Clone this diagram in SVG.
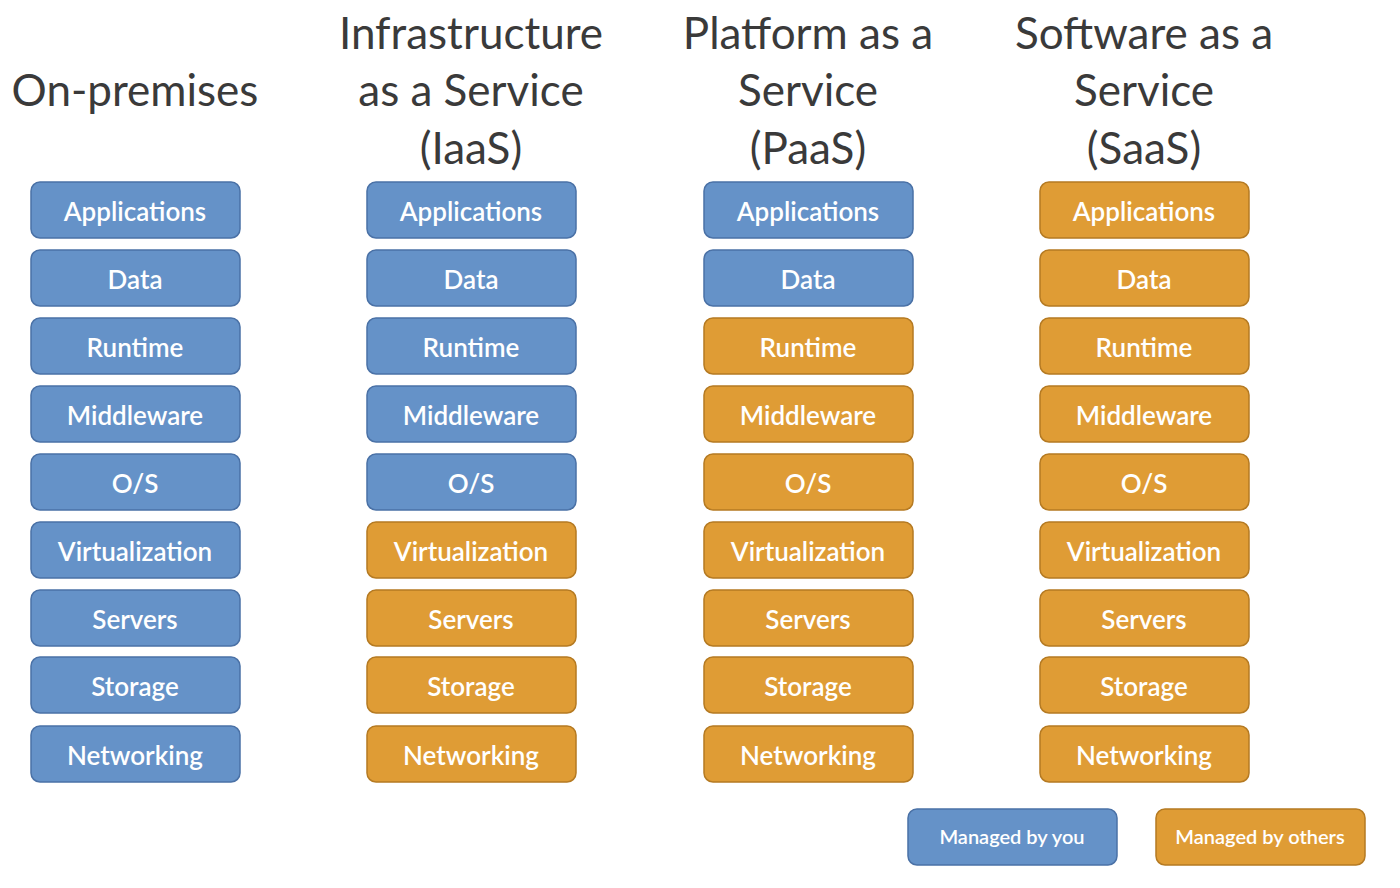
<svg xmlns="http://www.w3.org/2000/svg" width="1400" height="888" viewBox="0 0 1400 888">
<style>
.b{fill:#6592c8;stroke:#4a71a6;stroke-width:1.5}
.o{fill:#df9c35;stroke:#b57a22;stroke-width:1.5}
.t{font-family:Lato,"Open Sans",sans-serif;font-size:26px;fill:#fff;text-anchor:middle;font-weight:600}
.l{font-family:Lato,"Open Sans",sans-serif;font-size:20px;fill:#fff;text-anchor:middle;font-weight:600}
.h{font-family:Lato,"Open Sans",sans-serif;font-size:44px;fill:#3a3a3a;text-anchor:middle}
</style>
<g id="titles">
<text class="h" x="135" y="106">On-premises</text>
<text class="h" x="471" y="49">Infrastructure</text>
<text class="h" x="471" y="106">as a Service</text>
<text class="h" x="471" y="164">(IaaS)</text>
<text class="h" x="808" y="49">Platform as a</text>
<text class="h" x="808" y="106">Service</text>
<text class="h" x="808" y="164">(PaaS)</text>
<text class="h" x="1144" y="49">Software as a</text>
<text class="h" x="1144" y="106">Service</text>
<text class="h" x="1144" y="164">(SaaS)</text>
</g>
<g id="onprem">
<g id="op1"><rect class="b" x="31" y="182" width="209" height="56" rx="9"/><text class="t" x="135" y="221">Applications</text></g>
<g id="op2"><rect class="b" x="31" y="250" width="209" height="56" rx="9"/><text class="t" x="135" y="289">Data</text></g>
<g id="op3"><rect class="b" x="31" y="318" width="209" height="56" rx="9"/><text class="t" x="135" y="357">Runtime</text></g>
<g id="op4"><rect class="b" x="31" y="386" width="209" height="56" rx="9"/><text class="t" x="135" y="425">Middleware</text></g>
<g id="op5"><rect class="b" x="31" y="454" width="209" height="56" rx="9"/><text class="t" x="135" y="493">O/S</text></g>
<g id="op6"><rect class="b" x="31" y="522" width="209" height="56" rx="9"/><text class="t" x="135" y="561">Virtualization</text></g>
<g id="op7"><rect class="b" x="31" y="590" width="209" height="56" rx="9"/><text class="t" x="135" y="629">Servers</text></g>
<g id="op8"><rect class="b" x="31" y="657" width="209" height="56" rx="9"/><text class="t" x="135" y="696">Storage</text></g>
<g id="op9"><rect class="b" x="31" y="726" width="209" height="56" rx="9"/><text class="t" x="135" y="765">Networking</text></g>
</g>
<g id="iaas">
<g id="ia1"><rect class="b" x="367" y="182" width="209" height="56" rx="9"/><text class="t" x="471" y="221">Applications</text></g>
<g id="ia2"><rect class="b" x="367" y="250" width="209" height="56" rx="9"/><text class="t" x="471" y="289">Data</text></g>
<g id="ia3"><rect class="b" x="367" y="318" width="209" height="56" rx="9"/><text class="t" x="471" y="357">Runtime</text></g>
<g id="ia4"><rect class="b" x="367" y="386" width="209" height="56" rx="9"/><text class="t" x="471" y="425">Middleware</text></g>
<g id="ia5"><rect class="b" x="367" y="454" width="209" height="56" rx="9"/><text class="t" x="471" y="493">O/S</text></g>
<g id="ia6"><rect class="o" x="367" y="522" width="209" height="56" rx="9"/><text class="t" x="471" y="561">Virtualization</text></g>
<g id="ia7"><rect class="o" x="367" y="590" width="209" height="56" rx="9"/><text class="t" x="471" y="629">Servers</text></g>
<g id="ia8"><rect class="o" x="367" y="657" width="209" height="56" rx="9"/><text class="t" x="471" y="696">Storage</text></g>
<g id="ia9"><rect class="o" x="367" y="726" width="209" height="56" rx="9"/><text class="t" x="471" y="765">Networking</text></g>
</g>
<g id="paas">
<g id="pa1"><rect class="b" x="704" y="182" width="209" height="56" rx="9"/><text class="t" x="808" y="221">Applications</text></g>
<g id="pa2"><rect class="b" x="704" y="250" width="209" height="56" rx="9"/><text class="t" x="808" y="289">Data</text></g>
<g id="pa3"><rect class="o" x="704" y="318" width="209" height="56" rx="9"/><text class="t" x="808" y="357">Runtime</text></g>
<g id="pa4"><rect class="o" x="704" y="386" width="209" height="56" rx="9"/><text class="t" x="808" y="425">Middleware</text></g>
<g id="pa5"><rect class="o" x="704" y="454" width="209" height="56" rx="9"/><text class="t" x="808" y="493">O/S</text></g>
<g id="pa6"><rect class="o" x="704" y="522" width="209" height="56" rx="9"/><text class="t" x="808" y="561">Virtualization</text></g>
<g id="pa7"><rect class="o" x="704" y="590" width="209" height="56" rx="9"/><text class="t" x="808" y="629">Servers</text></g>
<g id="pa8"><rect class="o" x="704" y="657" width="209" height="56" rx="9"/><text class="t" x="808" y="696">Storage</text></g>
<g id="pa9"><rect class="o" x="704" y="726" width="209" height="56" rx="9"/><text class="t" x="808" y="765">Networking</text></g>
</g>
<g id="saas">
<g id="sa1"><rect class="o" x="1040" y="182" width="209" height="56" rx="9"/><text class="t" x="1144" y="221">Applications</text></g>
<g id="sa2"><rect class="o" x="1040" y="250" width="209" height="56" rx="9"/><text class="t" x="1144" y="289">Data</text></g>
<g id="sa3"><rect class="o" x="1040" y="318" width="209" height="56" rx="9"/><text class="t" x="1144" y="357">Runtime</text></g>
<g id="sa4"><rect class="o" x="1040" y="386" width="209" height="56" rx="9"/><text class="t" x="1144" y="425">Middleware</text></g>
<g id="sa5"><rect class="o" x="1040" y="454" width="209" height="56" rx="9"/><text class="t" x="1144" y="493">O/S</text></g>
<g id="sa6"><rect class="o" x="1040" y="522" width="209" height="56" rx="9"/><text class="t" x="1144" y="561">Virtualization</text></g>
<g id="sa7"><rect class="o" x="1040" y="590" width="209" height="56" rx="9"/><text class="t" x="1144" y="629">Servers</text></g>
<g id="sa8"><rect class="o" x="1040" y="657" width="209" height="56" rx="9"/><text class="t" x="1144" y="696">Storage</text></g>
<g id="sa9"><rect class="o" x="1040" y="726" width="209" height="56" rx="9"/><text class="t" x="1144" y="765">Networking</text></g>
</g>
<g id="legend">
<g id="lg1"><rect class="b" x="908" y="809" width="209" height="56" rx="9"/><text class="l" x="1012" y="844">Managed by you</text></g>
<g id="lg2"><rect class="o" x="1156" y="809" width="209" height="56" rx="9"/><text class="l" x="1260" y="844">Managed by others</text></g>
</g>
<g id="connectors"/>
</svg>
